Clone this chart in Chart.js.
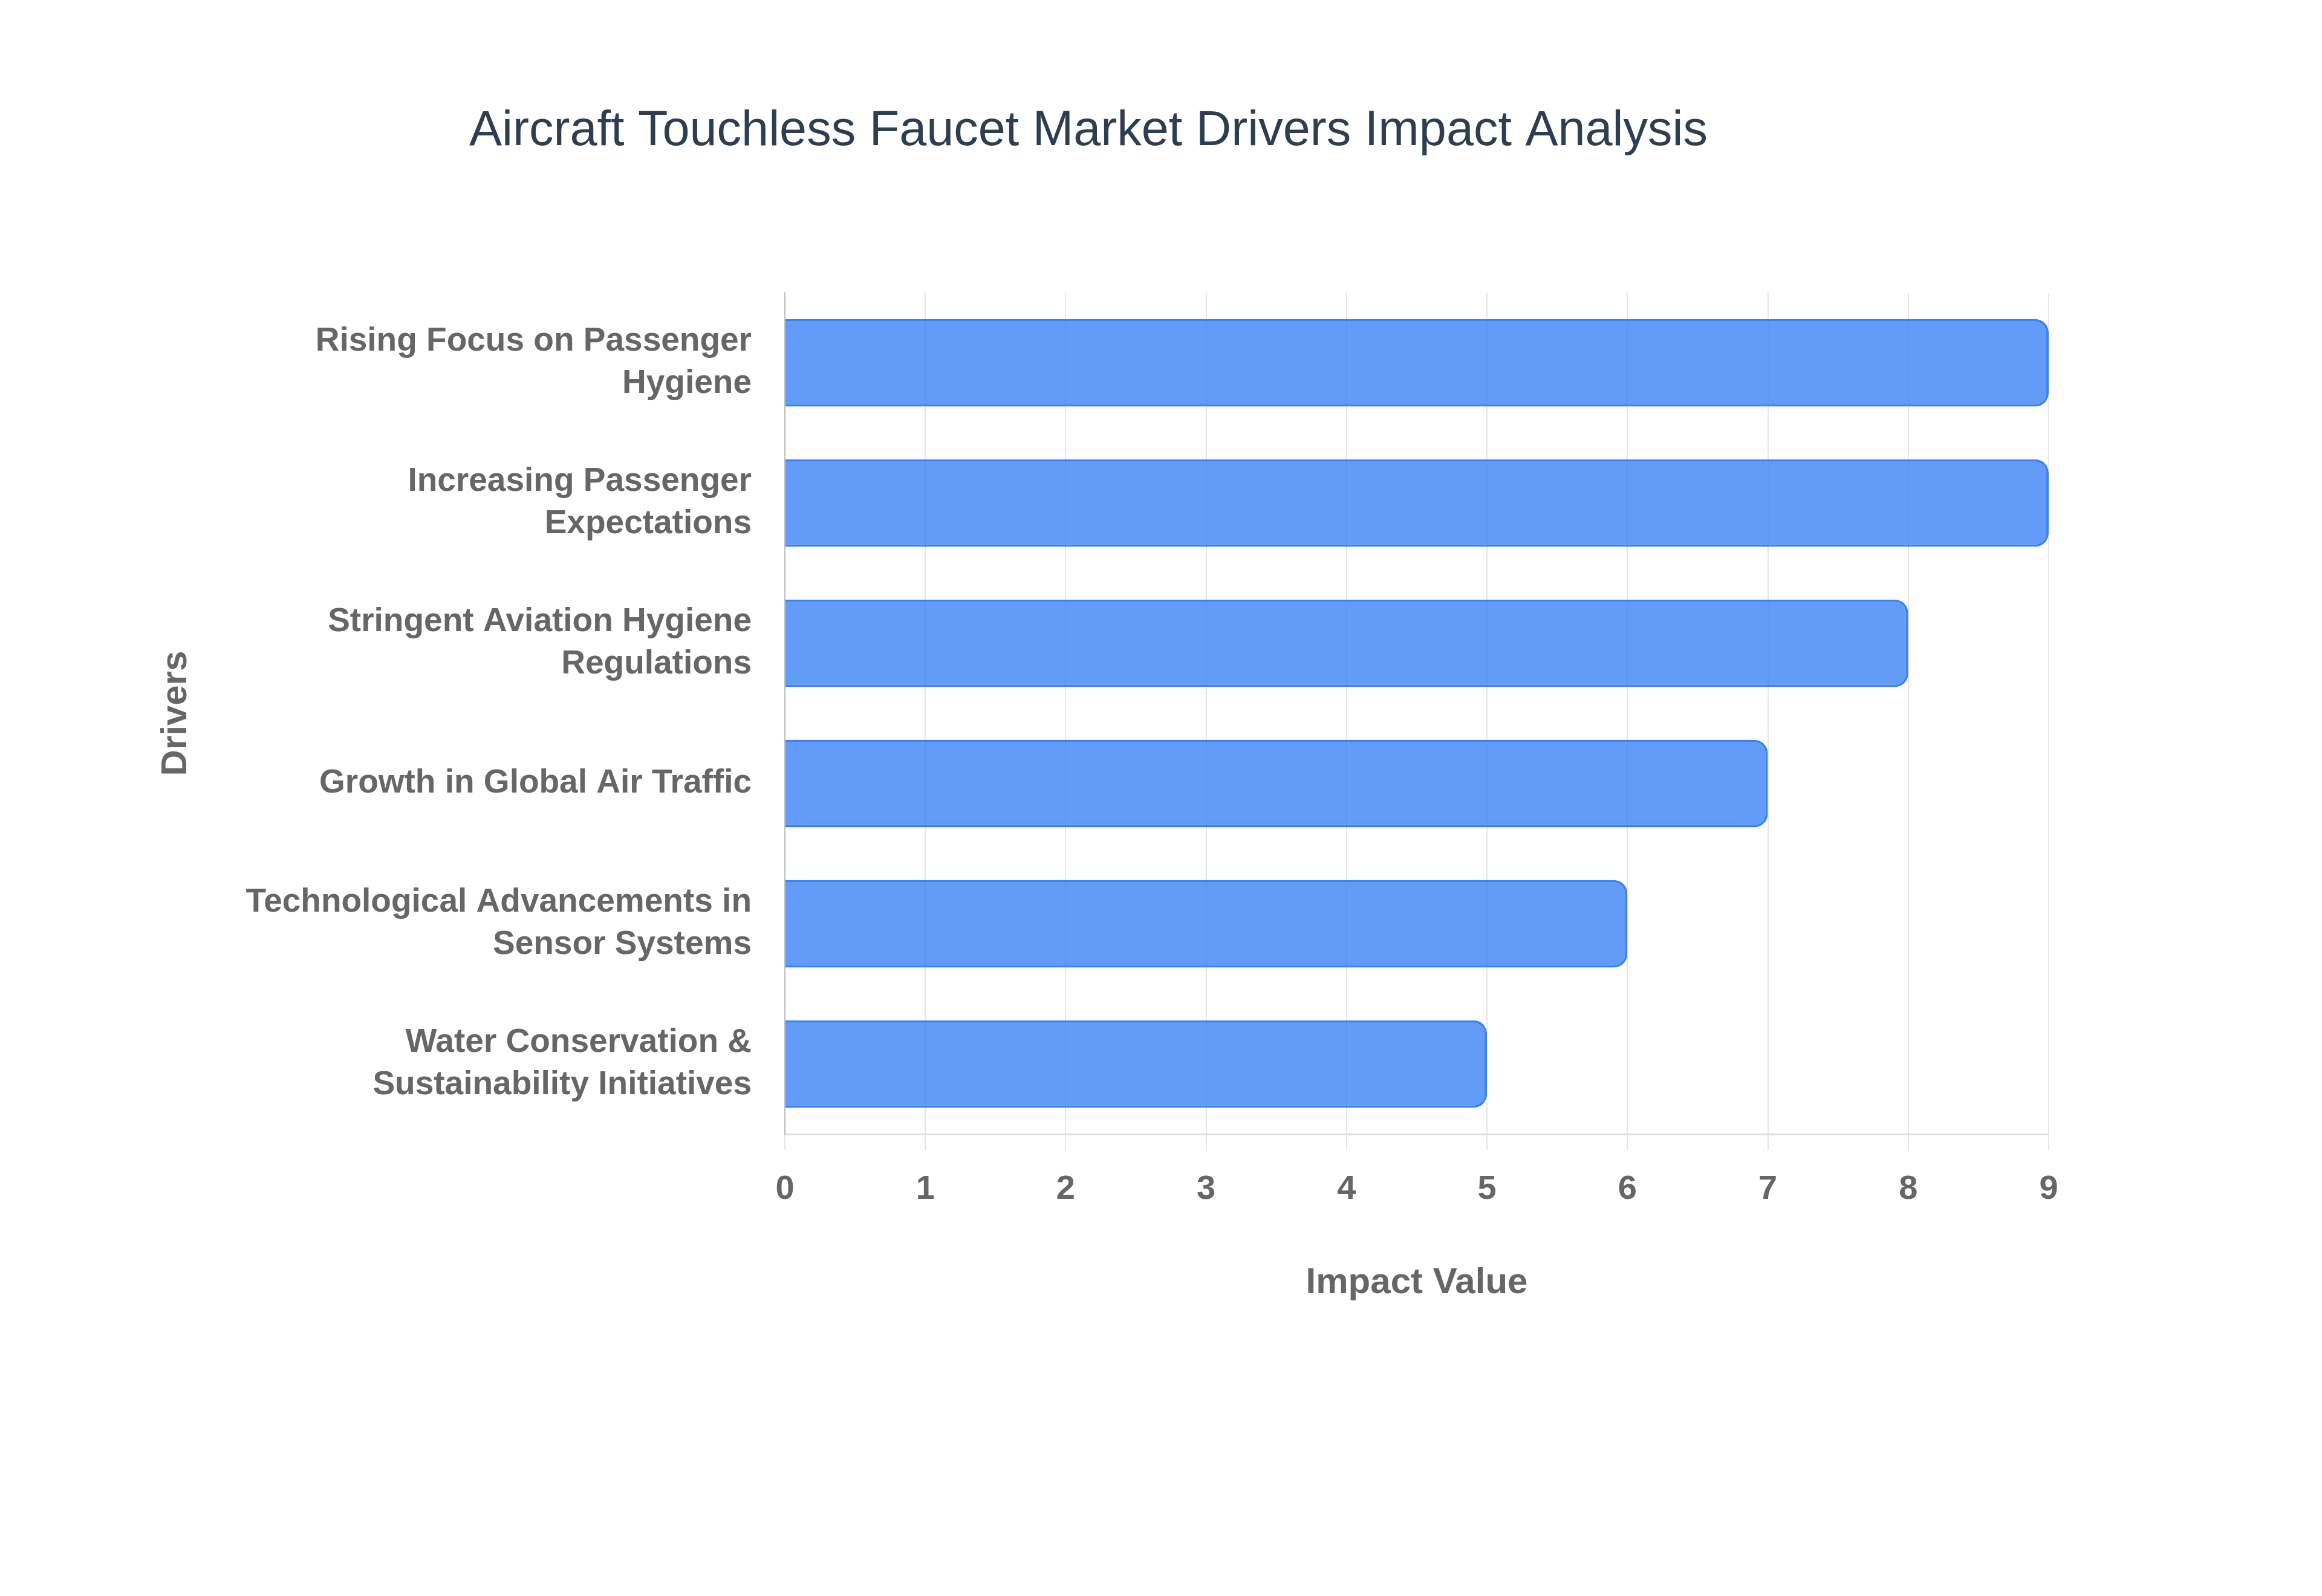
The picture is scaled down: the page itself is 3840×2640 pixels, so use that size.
<!DOCTYPE html>
<html>
<head>
<meta charset="utf-8">
<title>Aircraft Touchless Faucet Market Drivers Impact Analysis</title>
<script src="https://cdn.jsdelivr.net/npm/chart.js@4"></script>
<style>
  body { margin: 0; background: #fff; }
  #wrap { width: 3840px; height: 2640px; }
</style>
</head>
<body>
<div id="wrap"><canvas id="driversChart"></canvas></div>
<script>
// DATA
const drivers = [
    ['Rising Focus on Passenger', 'Hygiene'],
    ['Increasing Passenger', 'Expectations'],
    ['Stringent Aviation Hygiene', 'Regulations'],
    'Growth in Global Air Traffic',
    ['Technological Advancements in', 'Sensor Systems'],
    ['Water Conservation &', 'Sustainability Initiatives']
];
const impactValues = [9, 9, 8, 7, 6, 5];
const impactMin = 0;
const impactMax = 9;

// text styles
const labelFont = "'Liberation Sans', Arial, Helvetica, sans-serif";
const grey = '#666666';

const data = {
    labels: drivers,
    datasets: [{
        label: 'Impact Value',
        data: impactValues,
        backgroundColor: 'rgba(59, 130, 246, 0.8)',
        borderColor: 'rgba(59, 130, 246, 1)',
        borderWidth: 4,
        borderRadius: 22,
        categoryPercentage: 0.8,
        barPercentage: 0.78
    }]
};

const config = {
    type: 'bar',
    data: data,
    options: {
        indexAxis: 'y',
        responsive: true,
        maintainAspectRatio: false,
        animation: false,
        layout: {
            padding: { top: 60, left: 212, right: 452, bottom: 464 }
        },
        plugins: {
            legend: { display: false },
            tooltip: { enabled: false },
            title: {
                display: true,
                text: 'Aircraft Touchless Faucet Market Drivers Impact Analysis',
                color: '#2c3e50',
                font: { family: labelFont, size: 81, weight: 'normal', lineHeight: 1.2 },
                padding: { top: 109, bottom: 218 }
            }
        },
        scales: {
            x: {
                min: impactMin,
                max: impactMax,
                ticks: {
                    stepSize: 1,
                    color: grey,
                    padding: 32,
                    font: { family: labelFont, size: 56, weight: 'bold', lineHeight: 1.2 }
                },
                grid: {
                    color: 'rgba(0, 0, 0, 0.1)',
                    lineWidth: 2,
                    tickLength: 26
                },
                border: { color: 'rgba(0, 0, 0, 0.12)', width: 3 },
                title: {
                    display: true,
                    text: 'Impact Value',
                    color: grey,
                    font: { family: labelFont, size: 60, weight: 'bold', lineHeight: 1.2 },
                    padding: { top: 0, bottom: 18 }
                },
                afterFit: function (scale) { scale.height = 300; }
            },
            y: {
                ticks: {
                    color: grey,
                    padding: 47,
                    font: { family: labelFont, size: 55, weight: 'bold', lineHeight: 1.27 }
                },
                grid: { display: false },
                border: { color: 'rgba(0, 0, 0, 0.18)', width: 2 },
                title: {
                    display: true,
                    text: 'Drivers',
                    color: grey,
                    font: { family: labelFont, size: 60, weight: 'bold', lineHeight: 1.2 },
                    padding: { top: 43, bottom: 0 }
                },
                afterFit: function (scale) { scale.width = 1086; }
            }
        }
    }
};

const myChart = new Chart(document.getElementById('driversChart'), config);
</script>
</body>
</html>
